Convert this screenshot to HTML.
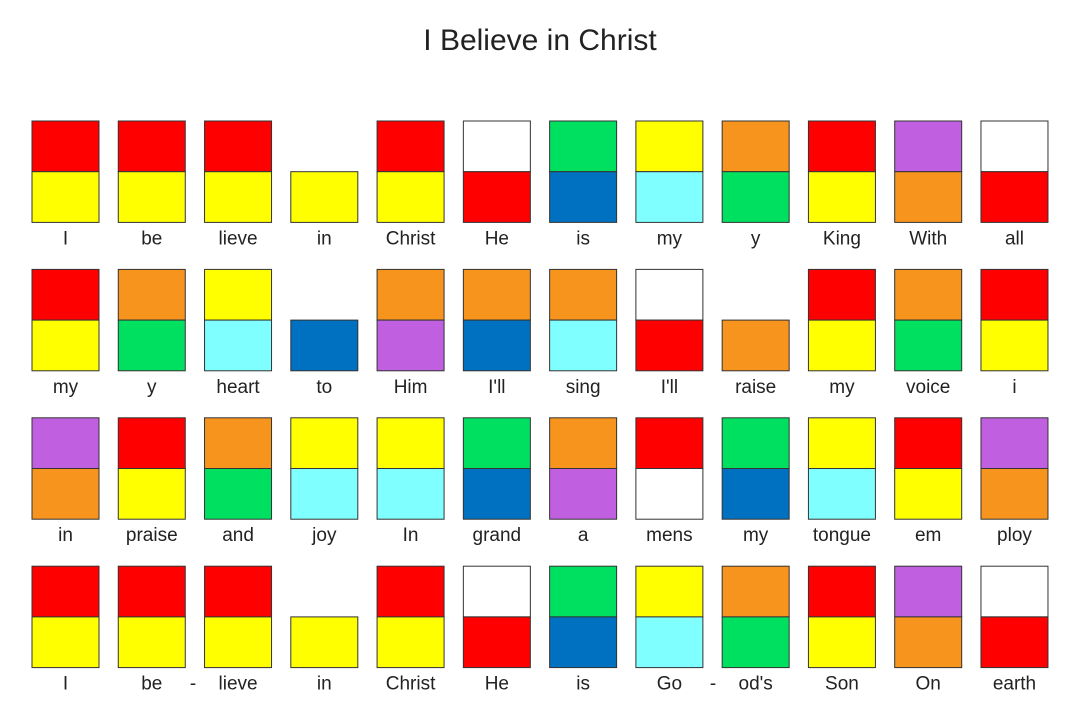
<!DOCTYPE html>
<html><head><meta charset="utf-8"><style>
body{margin:0;background:#fff;width:1080px;height:719px;overflow:hidden;font-family:"Liberation Sans","DejaVu Sans",sans-serif}
svg text{font-family:"Liberation Sans","DejaVu Sans",sans-serif}
</style></head><body>
<svg id="chart" width="1080" height="719">
<text x="540" y="50" text-anchor="middle" font-size="30" fill="#222">I Believe in Christ</text>
</svg>
<script>
const colorMap={R:"#ff0000",Y:"#ffff00",G:"#00e060",B:"#0070c0",C:"#7fffff",O:"#f7941d",P:"#c060e0",W:"#ffffff"};
const row1=["RY","RY","RY","-Y","RY","WR","GB","YC","OG","RY","PO","WR"];
const row2=["RY","OG","YC","-B","OP","OB","OC","WR","-O","RY","OG","RY"];
const row3=["PO","RY","OG","YC","YC","GB","OP","RW","GB","YC","RY","PO"];
const row4=["RY","RY","RY","-Y","RY","WR","GB","YC","OG","RY","PO","WR"];
const labels1=["I","be","lieve","in","Christ","He","is","my","y","King","With","all"];
const labels2=["my","y","heart","to","Him","I'll","sing","I'll","raise","my","voice","i"];
const labels3=["in","praise","and","joy","In","grand","a","mens","my","tongue","em","ploy"];
const labels4=["I","be","lieve","in","Christ","He","is","Go","od's","Son","On","earth"];
const rows=[row1,row2,row3,row4];
const labelRows=[labels1,labels2,labels3,labels4];
const svg=document.getElementById('chart');
const NS="http://www.w3.org/2000/svg";
const colX=i=>32+i*86.27, rowY=r=>121+r*148.4, W=67, H=50.7;
rows.forEach((row,r)=>{
  row.forEach((cell,i)=>{
    [0,1].forEach(h=>{
      const c=cell[h]; if(c==='-')return;
      const rect=document.createElementNS(NS,'rect');
      rect.setAttribute('x',colX(i));rect.setAttribute('y',rowY(r)+h*H);
      rect.setAttribute('width',W);rect.setAttribute('height',H);
      rect.setAttribute('fill',colorMap[c]);rect.setAttribute('stroke','#333');rect.setAttribute('stroke-width','1');
      
      
      svg.appendChild(rect);
    });
    const t=document.createElementNS(NS,'text');
    t.setAttribute('x',colX(i)+W/2);t.setAttribute('y',rowY(r)+2*H+22);
    t.setAttribute('text-anchor','middle');t.setAttribute('font-size','19');t.setAttribute('fill','#222');
    t.textContent=labelRows[r][i];
    
    
    svg.appendChild(t);
  });
});
[[193,3],[713,3]].forEach(([x,r])=>{
  const t=document.createElementNS(NS,'text');
  t.setAttribute('x',x);t.setAttribute('y',rowY(r)+2*H+22);
  t.setAttribute('text-anchor','middle');t.setAttribute('font-size','19');t.setAttribute('fill','#222');
  t.textContent='-';
  
  
  svg.appendChild(t);
});
</script>
</body></html>
